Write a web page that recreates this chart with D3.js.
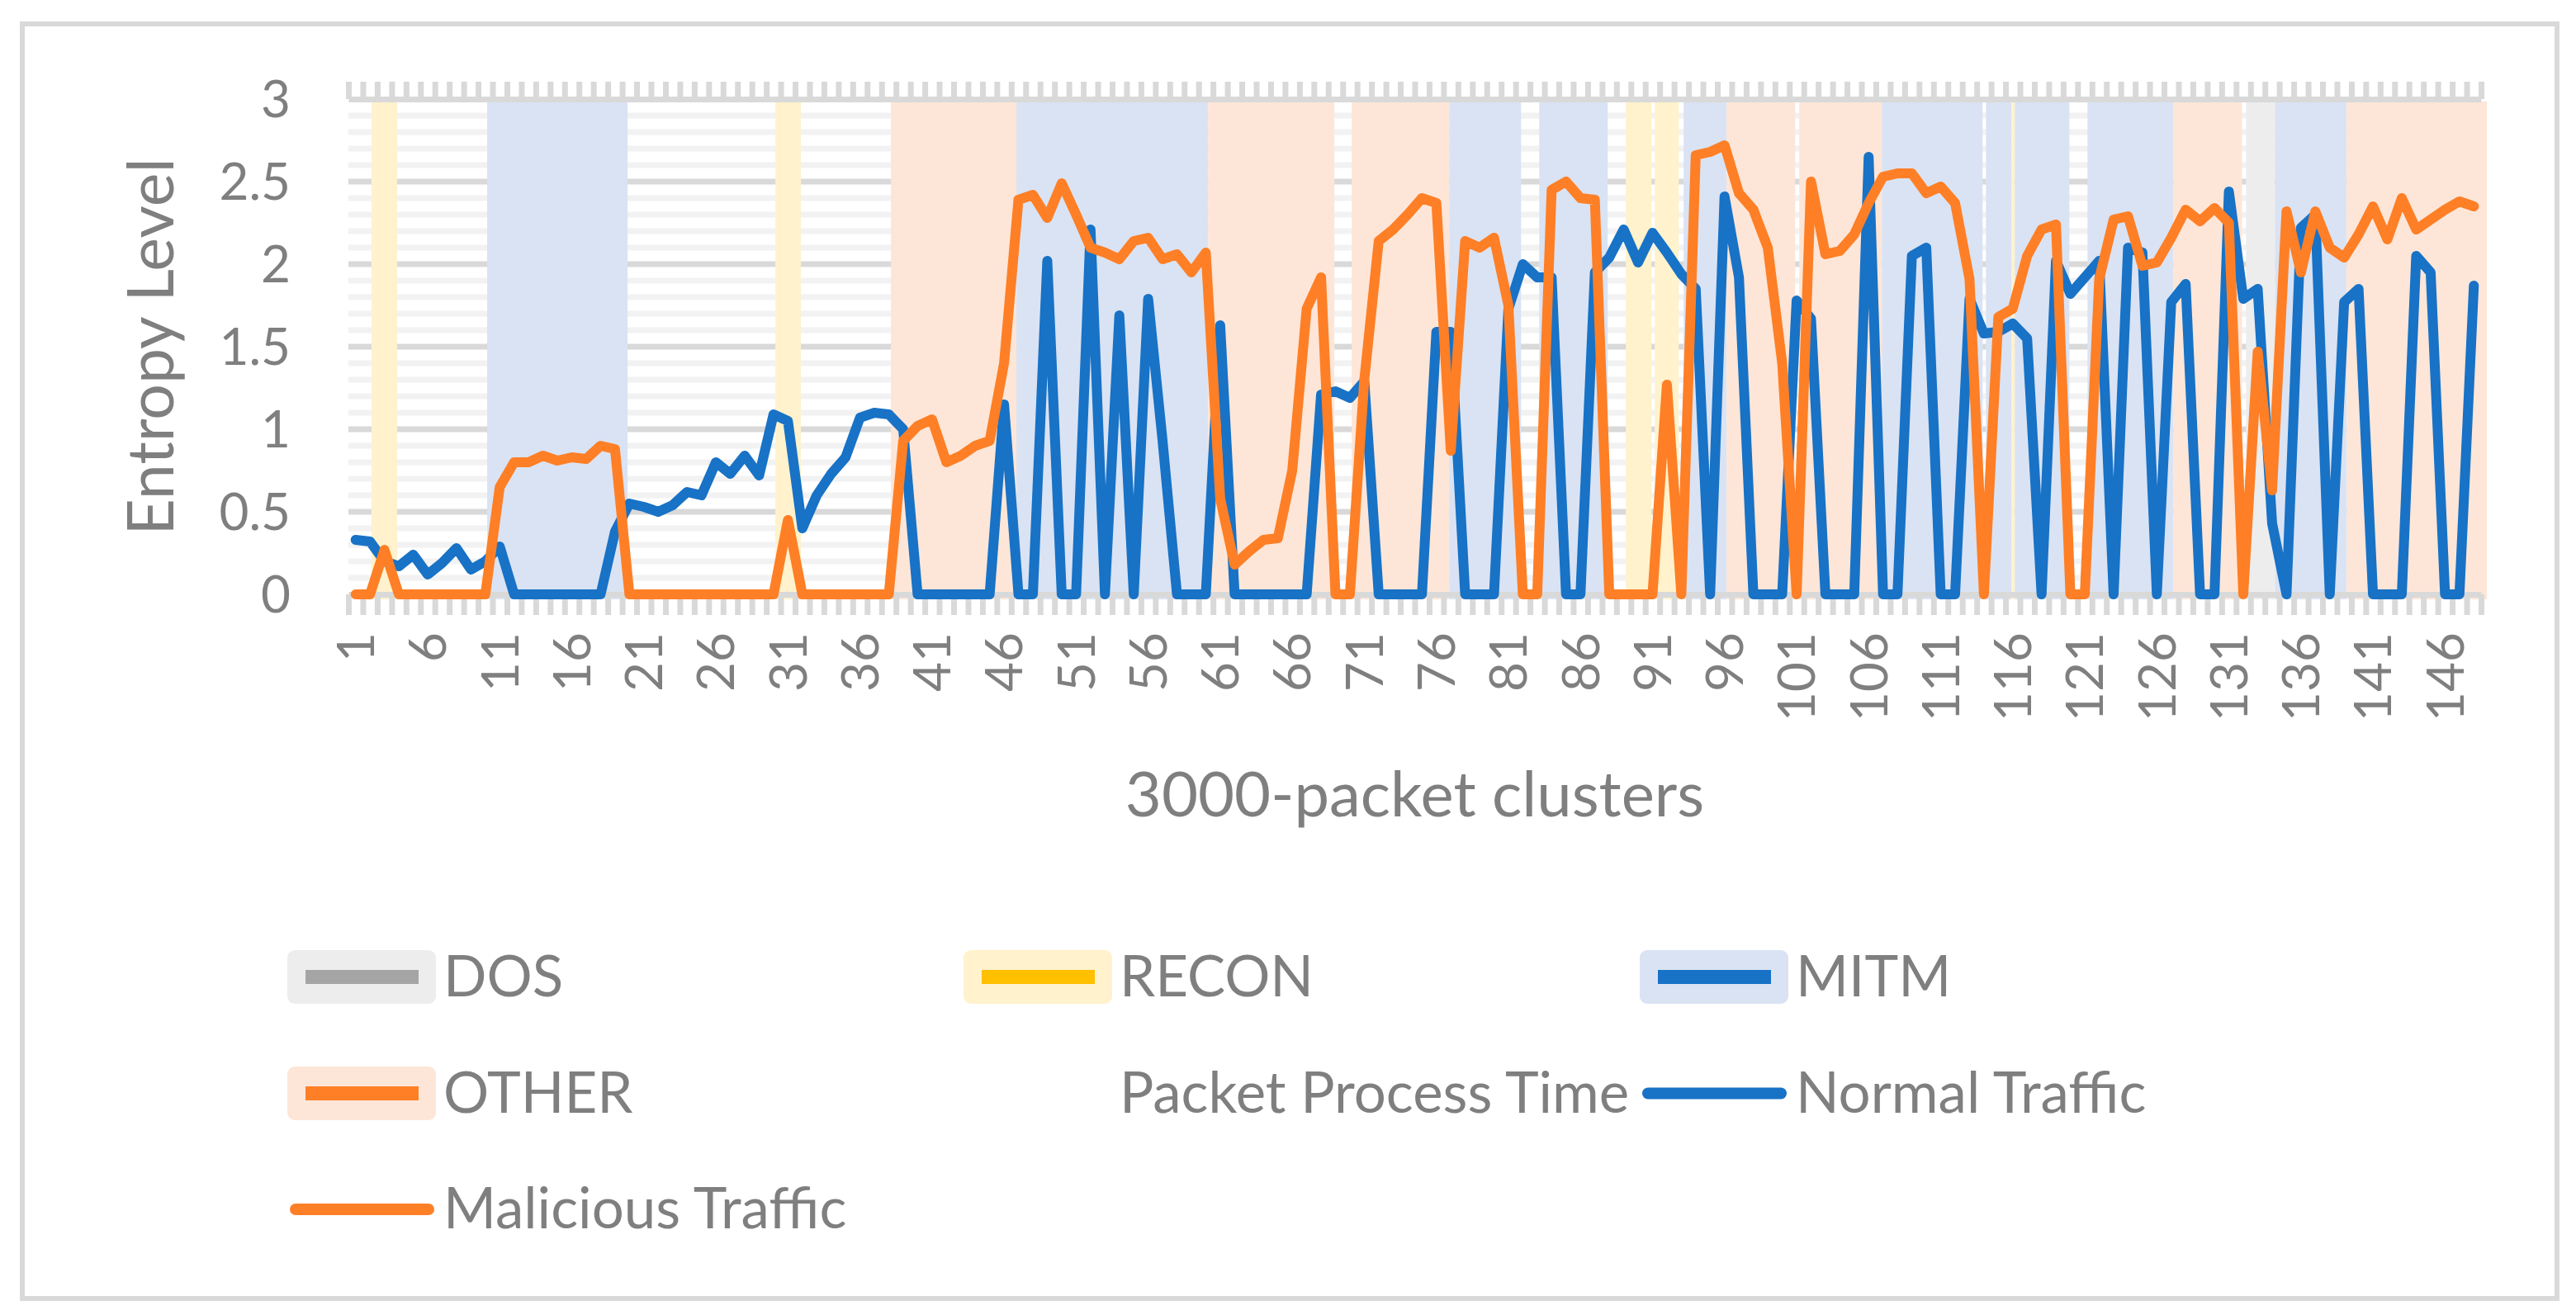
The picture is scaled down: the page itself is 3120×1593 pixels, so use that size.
<!DOCTYPE html>
<html>
<head>
<meta charset="utf-8">
<script src="https://cdn.jsdelivr.net/npm/d3@7"></script>
<style>
  html, body { margin: 0; padding: 0; background: #ffffff; }
  svg { display: block; }
  text { font-family: Lato, "Open Sans", "Noto Sans", sans-serif; fill: #7f7f7f; }
</style>
</head>
<body>
<svg id="chart" width="3120" height="1593"></svg>
<script>
// ---------------- DATA ----------------
const clusters = d3.range(1, 149);            // 148 clusters of 3000 packets
const xTickLabels = [1, 6, 11, 16, 21, 26, 31, 36, 41, 46, 51, 56, 61, 66, 71, 76, 81, 86, 91, 96,
                     101, 106, 111, 116, 121, 126, 131, 136, 141, 146];
const yTickValues = [0, 0.5, 1, 1.5, 2, 2.5, 3];

const normalTraffic = [
  0.33, 0.32, 0.20, 0.17, 0.24, 0.12, 0.19, 0.28, 0.15, 0.20,
  0.29, 0, 0, 0, 0, 0, 0, 0, 0.38, 0.55,
  0.53, 0.50, 0.54, 0.62, 0.60, 0.80, 0.73, 0.84, 0.72, 1.09,
  1.05, 0.40, 0.60, 0.73, 0.83, 1.07, 1.10, 1.09, 1.00, 0,
  0, 0, 0, 0, 0, 1.15, 0, 0, 2.02, 0,
  0, 2.21, 0, 1.69, 0, 1.79, 0.93, 0, 0, 0,
  1.63, 0, 0, 0, 0, 0, 0, 1.21, 1.23, 1.19,
  1.29, 0, 0, 0, 0, 1.59, 1.59, 0, 0, 0,
  1.73, 2.00, 1.92, 1.92, 0, 0, 1.95, 2.04, 2.21, 2.01,
  2.19, 2.07, 1.94, 1.85, 0, 2.41, 1.92, 0, 0, 0,
  1.78, 1.67, 0, 0, 0, 2.65, 0, 0, 2.05, 2.10,
  0, 0, 1.79, 1.58, 1.59, 1.64, 1.55, 0, 2.02, 1.82,
  1.92, 2.02, 0, 2.10, 2.07, 0, 1.77, 1.88, 0, 0,
  2.44, 1.79, 1.85, 0.43, 0, 2.22, 2.30, 0, 1.77, 1.85,
  0, 0, 0, 2.05, 1.95, 0, 0, 1.87
];

const maliciousTraffic = [
  0, 0, 0.27, 0, 0, 0, 0, 0, 0, 0,
  0.65, 0.80, 0.80, 0.84, 0.81, 0.83, 0.82, 0.90, 0.88, 0,
  0, 0, 0, 0, 0, 0, 0, 0, 0, 0,
  0.45, 0, 0, 0, 0, 0, 0, 0, 0.93, 1.02,
  1.06, 0.80, 0.84, 0.90, 0.93, 1.40, 2.39, 2.42, 2.28, 2.49,
  2.30, 2.10, 2.07, 2.03, 2.14, 2.16, 2.03, 2.06, 1.95, 2.07,
  0.58, 0.18, 0.26, 0.33, 0.34, 0.75, 1.73, 1.92, 0, 0,
  1.30, 2.14, 2.21, 2.30, 2.40, 2.37, 0.87, 2.14, 2.10, 2.16,
  1.75, 0, 0, 2.45, 2.50, 2.40, 2.39, 0, 0, 0,
  0, 1.27, 0, 2.66, 2.68, 2.72, 2.43, 2.33, 2.10, 1.40,
  0, 2.50, 2.06, 2.08, 2.18, 2.37, 2.53, 2.55, 2.55, 2.43,
  2.47, 2.37, 1.91, 0, 1.68, 1.73, 2.05, 2.21, 2.24, 0,
  0, 1.91, 2.27, 2.29, 1.99, 2.01, 2.16, 2.33, 2.26, 2.34,
  2.25, 0, 1.47, 0.63, 2.32, 1.95, 2.32, 2.10, 2.04, 2.18,
  2.35, 2.15, 2.40, 2.21, 2.27, 2.33, 2.38, 2.35
];

// attack-type shading: class, start cluster edge, end cluster edge
const bandClass = ["RECON", "MITM", "RECON", "OTHER", "MITM", "OTHER", "OTHER", "MITM", "MITM",
                   "RECON", "RECON", "MITM", "OTHER", "OTHER", "MITM", "MITM", "RECON", "MITM",
                   "MITM", "OTHER", "DOS", "MITM", "OTHER"];
const bandStart = [1.60, 9.63, 29.63, 37.65, 46.36, 59.66, 69.63, 76.39, 82.64,
                   88.65, 90.66, 92.66, 95.64, 100.69, 106.42, 113.64, 115.42, 115.64,
                   120.69, 126.65, 131.69, 133.70, 138.68];
const bandEnd   = [3.38, 19.37, 31.40, 46.36, 59.66, 68.42, 76.39, 81.38, 87.39,
                   90.43, 92.32, 95.64, 100.40, 106.42, 113.41, 115.42, 115.64, 119.43,
                   126.65, 131.40, 133.70, 138.68, 148.40];

// ---------------- STYLE ----------------
const bandFill = { DOS: "#ededed", RECON: "#fff2cc", MITM: "#dae3f3", OTHER: "#fde6d8" };
const bandLine = { DOS: "#a5a5a5", RECON: "#ffc000", MITM: "#1872c6", OTHER: "#fe7f26" };
const lineColor = { "Normal Traffic": "#1872c6", "Malicious Traffic": "#fe7f26", "Packet Process Time": null };
const gridMajor = "#d9d9d9", gridMinor = "#f2f2f2";

const svg = d3.select("#chart");
const plot = { left: 422, right: 3005, top: 120, bottom: 720 };

// outer frame
svg.append("rect").attr("x", 27).attr("y", 29).attr("width", 3070).attr("height", 1544)
  .attr("fill", "none").attr("stroke", "#d9d9d9").attr("stroke-width", 6);

// scales
const xEdge = d3.scaleLinear().domain([0, clusters.length]).range([plot.left, plot.right]);
const xBand = d3.scaleBand().domain(clusters).range([plot.left, plot.right]).padding(0);
const xc = k => xBand(k) + xBand.bandwidth() / 2;
const y = d3.scaleLinear().domain([0, 3]).range([plot.bottom, plot.top]);

// gridlines
const minorVals = d3.range(1, 30).map(i => i / 10).filter(v => Math.abs(v * 2 - Math.round(v * 2)) > 1e-6);
svg.append("g").selectAll("line").data(minorVals).join("line")
  .attr("x1", plot.left).attr("x2", plot.right)
  .attr("y1", d => y(d)).attr("y2", d => y(d))
  .attr("stroke", gridMinor).attr("stroke-width", 7);
svg.append("g").selectAll("line").data(yTickValues.filter(v => v > 0 && v < 3)).join("line")
  .attr("x1", plot.left).attr("x2", plot.right)
  .attr("y1", d => y(d)).attr("y2", d => y(d))
  .attr("stroke", gridMajor).attr("stroke-width", 7);

// attack bands
svg.append("g").selectAll("rect").data(bandClass.map((c, i) => ({ c, s: bandStart[i], e: bandEnd[i] })))
  .join("rect")
  .attr("x", d => xEdge(d.s)).attr("width", d => xEdge(d.e) - xEdge(d.s))
  .attr("y", y(3) + 3).attr("height", y(0) - y(3) + 3)
  .attr("fill", d => bandFill[d.c]);

// top (secondary) axis: line + tick marks
const edges = d3.range(0, clusters.length + 1);
const topAxis = d3.axisTop(xEdge).tickValues(edges).tickSize(21).tickSizeOuter(0).tickFormat("");
const gTop = svg.append("g").attr("transform", `translate(0,${y(3)})`).call(topAxis);
gTop.select(".domain").attr("stroke", gridMajor).attr("stroke-width", 7);
gTop.selectAll(".tick line").attr("stroke", gridMajor).attr("stroke-width", 7);

// bottom axis
const botAxis = d3.axisBottom(xEdge).tickValues(edges).tickSize(25).tickSizeOuter(0).tickFormat("");
const gBot = svg.append("g").attr("transform", `translate(0,${y(0)})`).call(botAxis);
gBot.select(".domain").attr("stroke", gridMajor).attr("stroke-width", 7);
gBot.selectAll(".tick line").attr("stroke", gridMajor).attr("stroke-width", 7);

// x tick labels (rotated)
svg.append("g").selectAll("text").data(xTickLabels).join("text")
  .attr("transform", d => `translate(${xc(d)},${766}) rotate(-90)`)
  .attr("text-anchor", "end").attr("dy", "0.36em")
  .style("font-size", "62px")
  .text(d => d);

// y tick labels
svg.append("g").selectAll("text").data(yTickValues).join("text")
  .attr("x", 352).attr("y", d => y(d)).attr("dy", "0.36em")
  .attr("text-anchor", "end").style("font-size", "62px")
  .text(d => d);

// axis titles
svg.append("text").attr("transform", `translate(210,${(plot.top + plot.bottom) / 2}) rotate(-90)`)
  .attr("text-anchor", "middle").style("font-size", "77px").text("Entropy Level");
svg.append("text").attr("x", (plot.left + plot.right) / 2).attr("y", 989)
  .attr("text-anchor", "middle").style("font-size", "76px").text("3000-packet clusters");

// lines
const line = d3.line().x((d, i) => xc(clusters[i])).y(d => y(d));
svg.append("path").datum(normalTraffic).attr("d", line)
  .attr("fill", "none").attr("stroke", lineColor["Normal Traffic"]).attr("stroke-width", 12)
  .attr("stroke-linejoin", "round").attr("stroke-linecap", "round");
svg.append("path").datum(maliciousTraffic).attr("d", line)
  .attr("fill", "none").attr("stroke", lineColor["Malicious Traffic"]).attr("stroke-width", 12)
  .attr("stroke-linejoin", "round").attr("stroke-linecap", "round");

// legend
const colX = [348, 1167, 1986];
const rowY = [1183.5, 1324.5, 1465];
const legendItems = [
  { name: "DOS", type: "band", col: 0, row: 0 },
  { name: "RECON", type: "band", col: 1, row: 0 },
  { name: "MITM", type: "band", col: 2, row: 0 },
  { name: "OTHER", type: "band", col: 0, row: 1 },
  { name: "Packet Process Time", type: "none", col: 1, row: 1 },
  { name: "Normal Traffic", type: "line", col: 2, row: 1 },
  { name: "Malicious Traffic", type: "line", col: 0, row: 2 }
];
const lg = svg.append("g");
legendItems.forEach(it => {
  const x0 = colX[it.col], cy = rowY[it.row];
  if (it.type === "band") {
    lg.append("rect").attr("x", x0).attr("y", cy - 32.5).attr("width", 180).attr("height", 65)
      .attr("rx", 9).attr("fill", bandFill[it.name]);
    lg.append("rect").attr("x", x0 + 22).attr("y", cy - 8.5).attr("width", 137).attr("height", 17)
      .attr("fill", bandLine[it.name]);
  } else if (it.type === "line") {
    lg.append("line").attr("x1", x0 + 10).attr("x2", x0 + 171).attr("y1", cy).attr("y2", cy)
      .attr("stroke", lineColor[it.name]).attr("stroke-width", 14).attr("stroke-linecap", "round");
  }
  lg.append("text").attr("x", x0 + 189).attr("y", cy + 23).style("font-size", "69px").text(it.name);
});
</script>
</body>
</html>
